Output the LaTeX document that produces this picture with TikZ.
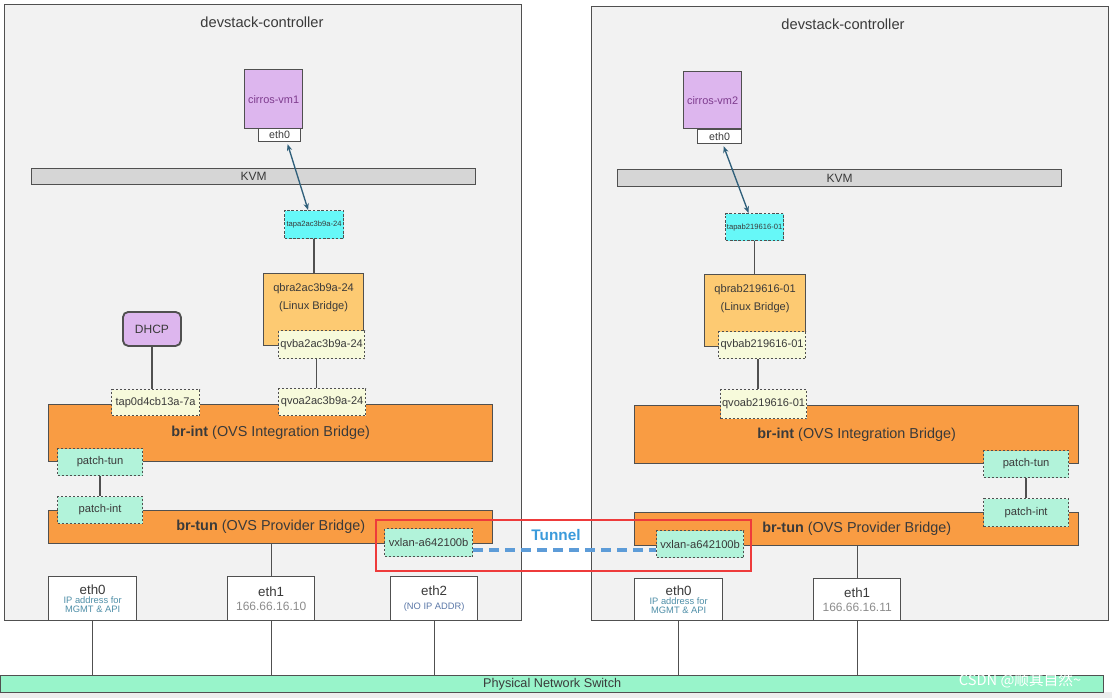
\documentclass[tikz,border=0pt]{standalone}
\usepackage{fontspec}
\setmainfont{Liberation Sans}
\newfontfamily\cjkfont{Noto Sans CJK SC}
\usetikzlibrary{arrows.meta,calc}
\newdimen\pxu \pxu=0.75pt
\definecolor{hostbg}{HTML}{F2F2F2}
\definecolor{edgecol}{HTML}{505050}
\definecolor{vmfill}{HTML}{DDB6EE}
\definecolor{vmtext}{HTML}{7E3C8E}
\definecolor{kvmfill}{HTML}{D6D6D6}
\definecolor{tapfill}{HTML}{66F8F8}
\definecolor{qbrfill}{HTML}{FDCA72}
\definecolor{vethfill}{HTML}{F7FADB}
\definecolor{brfill}{HTML}{F99C43}
\definecolor{mintfill}{HTML}{B2F3DA}
\definecolor{switchfill}{HTML}{98F4CA}
\definecolor{linkcol}{HTML}{2F5F7A}
\definecolor{tuncol}{HTML}{5D9CD8}
\definecolor{tuntext}{HTML}{3B9BDB}
\definecolor{redbox}{HTML}{EE3B3B}
\definecolor{iptext}{HTML}{4F8FA8}
\definecolor{graytext}{HTML}{8C8C8C}
\definecolor{noiptext}{HTML}{5B78A8}
\definecolor{darktext}{HTML}{3A3A3A}
\tikzset{
  rbox/.style 2 args={rectangle, minimum width=#1\pxu, minimum height=#2\pxu, inner sep=0pt, anchor=north west},
  hostbox/.style={draw=edgecol, fill=hostbg, line width=1pt},
  titletext/.style={font=\fontsize{11}{12}\selectfont, text=darktext},
  vmbox/.style={draw=edgecol, fill=vmfill, line width=0.9pt, text=vmtext, font=\fontsize{8.2}{9}\selectfont},
  nicbox/.style={draw=edgecol, fill=white, line width=0.9pt, text=darktext, font=\fontsize{8}{9}\selectfont},
  kvmbar/.style={draw=edgecol, fill=kvmfill, line width=0.9pt, text=darktext, font=\fontsize{9}{10}\selectfont},
  tapbox/.style={draw=edgecol, fill=tapfill, line width=0.9pt, dash pattern=on 2pt off 1.2pt, text=darktext, font=\fontsize{5.7}{6}\selectfont},
  qbrbox/.style={draw=edgecol, fill=qbrfill, line width=0.9pt, text=darktext, font=\fontsize{8.3}{13.5}\selectfont, align=center},
  vethbox/.style={draw=edgecol, fill=vethfill, line width=0.9pt, dash pattern=on 1.5pt off 1.5pt, text=darktext, font=\fontsize{8.3}{9}\selectfont},
  dhcpbox/.style={draw=edgecol, fill=vmfill, line width=1.4pt, rounded corners=4pt, text=darktext, font=\fontsize{9}{10}\selectfont},
  bridgebox/.style={draw=edgecol, fill=brfill, line width=1pt, text=darktext, font=\fontsize{10.8}{12}\selectfont},
  mintbox/.style={draw=edgecol, fill=mintfill, line width=0.9pt, dash pattern=on 1.5pt off 1.5pt, text=darktext, font=\fontsize{8.4}{9}\selectfont},
  ethbox/.style={draw=edgecol, fill=white, line width=1pt, text=darktext, align=center, font=\fontsize{10}{10}\selectfont},
  switchbar/.style={draw=edgecol, fill=switchfill, line width=1pt, text=darktext, font=\fontsize{9.5}{10}\selectfont},
  wire/.style={draw=edgecol, line width=1pt},
  vmlink/.style={draw=linkcol, line width=1pt, {Stealth[length=5pt,width=4pt]}-{Stealth[length=5pt,width=4pt]}},
  tunline/.style={draw=tuncol, line width=3pt, dash pattern=on 7pt off 5pt},
  redframe/.style={draw=redbox, line width=1.5pt},
}
\newcommand{\ipsmall}[1]{{\fontsize{7}{7.5}\selectfont #1}}
\begin{document}
\begin{tikzpicture}[x=0.75pt, y=-0.75pt]
\useasboundingbox (0,0) rectangle (1112,698);
\fill[white] (0,0) rectangle (1112,698);
\fill[black!7] (0,692) rectangle (1112,698);

% ---------------- left host ----------------
\node[hostbox, rbox={517}{616}] (hostL) at (4,4) {};
\node[titletext] (titleL) at (262,22) {devstack-controller};
\node[vmbox, rbox={58}{59}] (vmL) at (244,69) {cirros-vm1};
\node[nicbox, rbox={42}{13}] (vnicL) at (258,128) {eth0};
\node[kvmbar, rbox={444}{16}] (kvmL) at (31,168) {KVM};
\node[tapbox, rbox={59}{28}] (tapL) at (284,210) {tapa2ac3b9a-24};
\node[qbrbox, rbox={100}{72}] (qbrL) at (263,273) {qbra2ac3b9a-24\\(Linux Bridge)\\[6pt]};
\node[vethbox, rbox={86}{28}] (qvbL) at (278,330) {qvba2ac3b9a-24};
\node[dhcpbox, rbox={58}{34}] (dhcpL) at (122,311) {DHCP};
\node[bridgebox, rbox={444}{57}] (brintL) at (48,404) {\textbf{br-int} (OVS Integration Bridge)};
\node[vethbox, rbox={87}{27}] (qvoL) at (278,388) {qvoa2ac3b9a-24};
\node[vethbox, rbox={88}{26}] (tapdL) at (111,389) {tap0d4cb13a-7a};
\node[bridgebox, rbox={444}{33}] (brtunL) at (48,510) {\textbf{br-tun} (OVS Provider Bridge)};
\node[mintbox, rbox={85}{27}] (ptunL) at (57,448) {patch-tun};
\node[mintbox, rbox={85}{27}] (pintL) at (57,496) {patch-int};
\node[mintbox, rbox={88}{28}] (vxL) at (384,528) {vxlan-a642100b};
\node[ethbox, rbox={88}{44}] (eth0L) at (48,576) {eth0\\[-3pt]\ipsmall{\textcolor{iptext}{IP address for}}\\[-3pt]\ipsmall{\textcolor{iptext}{MGMT \& API}}};
\node[ethbox, rbox={87}{44}] (eth1L) at (227,576) {eth1\\[1pt]{\fontsize{9}{9}\selectfont\textcolor{graytext}{166.66.16.10}}};
\node[ethbox, rbox={87}{44}] (eth2L) at (390,576) {eth2\\[0pt]\ipsmall{\textcolor{noiptext}{(NO IP ADDR)}}};

% ---------------- right host ----------------
\node[hostbox, rbox={517}{614}] (hostR) at (591,6) {};
\node[titletext] (titleR) at (843,24) {devstack-controller};
\node[vmbox, rbox={58}{57}] (vmR) at (683,71) {cirros-vm2};
\node[nicbox, rbox={44}{14}] (vnicR) at (697,129) {eth0};
\node[kvmbar, rbox={444}{17}] (kvmR) at (617,169) {KVM};
\node[tapbox, rbox={58}{27}] (tapR) at (725,213) {tapab219616-01};
\node[qbrbox, rbox={101}{72}] (qbrR) at (704,274) {qbrab219616-01\\(Linux Bridge)\\[6pt]};
\node[vethbox, rbox={87}{27}] (qvbR) at (718,331) {qvbab219616-01};
\node[bridgebox, rbox={444}{58}] (brintR) at (634,405) {\textbf{br-int} (OVS Integration Bridge)};
\node[vethbox, rbox={86}{29}] (qvoR) at (720,389) {qvoab219616-01};
\node[bridgebox, rbox={444}{33}] (brtunR) at (634,512) {\textbf{br-tun} (OVS Provider Bridge)};
\node[mintbox, rbox={85}{27}] (ptunR) at (983,450) {patch-tun};
\node[mintbox, rbox={85}{28}] (pintR) at (983,498) {patch-int};
\node[mintbox, rbox={87}{27}] (vxR) at (656,530) {vxlan-a642100b};
\node[ethbox, rbox={88}{42}] (eth0R) at (634,578) {eth0\\[-3pt]\ipsmall{\textcolor{iptext}{IP address for}}\\[-3pt]\ipsmall{\textcolor{iptext}{MGMT \& API}}};
\node[ethbox, rbox={87}{42}] (eth1R) at (813,578) {eth1\\[1pt]{\fontsize{9}{9}\selectfont\textcolor{graytext}{166.66.16.11}}};

% ---------------- switch ----------------
\node[switchbar, rbox={1103}{17}] (switch) at (0,675) {Physical Network Switch};

% ---------------- connectors left ----------------
\draw[vmlink] ([xshift=8\pxu,yshift=-2\pxu]vnicL.south) -- ([xshift=-6\pxu]tapL.north);
\draw[wire] (tapL.south) -- (tapL.south |- qbrL.north);
\draw[wire] ([xshift=-5\pxu]qvbL.south) -- ([xshift=-5\pxu]qvbL.south |- qvoL.north);
\draw[wire] (dhcpL.south) -- (dhcpL.south |- tapdL.north);
\draw[wire] (ptunL.south) -- (pintL.north);
\draw[wire] (eth1L.north |- brtunL.south) -- (eth1L.north);
\draw[wire] (eth0L.south) -- (eth0L.south |- switch.north);
\draw[wire] (eth1L.south) -- (eth1L.south |- switch.north);
\draw[wire] (eth2L.south) -- (eth2L.south |- switch.north);

% ---------------- connectors right ----------------
\draw[vmlink] ([xshift=4\pxu,yshift=-2\pxu]vnicR.south) -- ([xshift=-6\pxu]tapR.north);
\draw[wire] (tapR.south) -- (tapR.south |- qbrR.north);
\draw[wire] ([xshift=-4\pxu]qvbR.south) -- ([xshift=-4\pxu]qvbR.south |- qvoR.north);
\draw[wire] (ptunR.south) -- (pintR.north);
\draw[wire] (eth1R.north |- brtunR.south) -- (eth1R.north);
\draw[wire] (eth0R.south) -- (eth0R.south |- switch.north);
\draw[wire] (eth1R.south) -- (eth1R.south |- switch.north);

% ---------------- tunnel ----------------
\draw[tunline] ([yshift=-7\pxu]vxL.east) -- ([yshift=-5.5\pxu]vxR.west);
\node[redframe, rbox={375}{51}] (tunframe) at (375,519) {};
\node[text=tuntext, font=\bfseries\fontsize{11.5}{12}\selectfont] (tunlabel) at (556,535) {Tunnel};

% ---------------- watermark ----------------
\node[text=white, font=\cjkfont\fontsize{11}{12}\selectfont] (mark) at (1020,681) {CSDN @顺其自然\textasciitilde};
\end{tikzpicture}
\end{document}
